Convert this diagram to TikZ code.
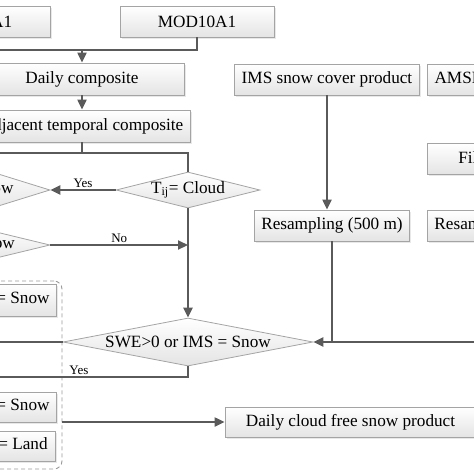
\documentclass[tikz,border=0pt]{standalone}
\usepackage{fontspec}
\setmainfont{Liberation Serif}
\usetikzlibrary{arrows.meta,shapes.geometric,shadows}

\definecolor{flowgray}{HTML}{5A5A5A}
\definecolor{edgegray}{HTML}{A4A4A4}
\definecolor{fillgray}{HTML}{E4E4E4}

\begin{document}
\begin{tikzpicture}[
  x=1pt, y=-1pt,
  font=\fontsize{17.2}{20}\selectfont,
  procbox/.style={
    draw=edgegray, line width=0.9pt,
    top color=white, bottom color=fillgray,
    minimum height=31pt, inner xsep=7pt, inner ysep=0pt,
    drop shadow={opacity=0.18, shadow xshift=1.5pt, shadow yshift=-1.5pt},
  },
  decision/.style={
    diamond, draw=edgegray, line width=0.8pt,
    top color=white, bottom color=fillgray, inner sep=0pt,
  },
  flow/.style={draw=flowgray, line width=2.2pt},
  flowarrow/.style={flow, -{Triangle[length=10pt,width=9pt]}},
  flowlabel/.style={font=\fontsize{13}{15}\selectfont, inner sep=1.5pt},
  groupbox/.style={
    draw=gray!80, line width=0.9pt, dash pattern=on 4pt off 3pt,
    rounded corners=8pt,
  },
]
  \useasboundingbox (0,0) rectangle (474,474);
  \clip (0,0) rectangle (474,474);

  \node[procbox, minimum width=154pt] (mydten) at (-27,21.5) {MYD10A1};
  \node[procbox, minimum width=154pt] (modten) at (197,21.5) {MOD10A1};
  \node[procbox, minimum width=204pt, minimum height=32pt] (daily) at (82,79) {Daily composite};
  \node[procbox, minimum width=216pt, minimum height=32pt] (adjacent) at (82,126)
    {Adjacent temporal composite};

  \node[decision, aspect=4, minimum width=144pt, minimum height=36pt] (cloud) at (188,190)
    {T\textsubscript{ij}= Cloud};
  \node[decision, aspect=3, minimum width=154pt, minimum height=48pt] (prevsnow) at (-27,190)
    {T\textsubscript{ij-1}= Snow};
  \node[decision, aspect=4, minimum width=154pt, minimum height=36pt] (nextsnow) at (-27,245)
    {T\textsubscript{ij+1}= Snow};
  \node[decision, aspect=5.2, minimum width=250pt, minimum height=48pt] (swe) at (188,342)
    {SWE>0 or IMS = Snow};

  \node[groupbox, minimum width=102pt, minimum height=188pt] (group) at (11,375) {};
  \node[procbox, minimum width=86pt, minimum height=32pt] (snowone) at (12,300)
    {T\textsubscript{ij} = Snow};
  \node[procbox, minimum width=86pt, minimum height=30pt] (snowtwo) at (12,407)
    {T\textsubscript{ij} = Snow};
  \node[procbox, minimum width=86pt, minimum height=30pt] (land) at (12,446)
    {T\textsubscript{ij} = Land};

  \node[procbox, minimum width=180pt] (ims) at (327,79.5) {IMS snow cover product};
  \node[procbox, minimum width=152pt] (resims) at (332,225.5) {Resampling (500 m)};
  \node[procbox, anchor=west, minimum width=169pt] (amsr) at (427,79.5) {AMSR2 SWE product};
  \node[procbox, anchor=west, minimum width=121pt] (filter) at (427,159) {Filtering};
  \node[procbox, anchor=west, minimum width=152pt] (resamsr) at (427,225.5) {Resampling (500 m)};

  \node[procbox, minimum width=251pt, minimum height=30pt] (final) at (350.5,422)
    {Daily cloud free snow product};

  \coordinate (merge) at (82,50);
  \coordinate (splitleft) at (-60,153);
  \coordinate (sweleft) at (-60,342);
  \coordinate (yesleft) at (-60,377);
  \coordinate (sweright) at (520,342);

  \draw[flow] (mydten.south) |- (merge) -| (modten.south);
  \draw[flowarrow] (merge) -- (daily.north);
  \draw[flowarrow] (daily.south) -- (adjacent.north);
  \draw[flow] (adjacent.south) -- (adjacent.south |- splitleft);
  \draw[flow] (splitleft) -| (cloud.north);

  \draw[flowarrow] (cloud.west) -- node[above, flowlabel] {Yes} (prevsnow.east);
  \draw[flowarrow] (nextsnow.east) -- node[above, flowlabel] {No} (nextsnow.east -| cloud.south);
  \draw[flowarrow] (cloud.south) -- (swe.north);

  \draw[flow] (swe.west) -- (sweleft);
  \draw[flow] (swe.south) |- node[pos=0.72, above, flowlabel] {Yes} (yesleft);

  \draw[flowarrow] (ims.south) -- (ims.south |- resims.north);
  \draw[flow] (resims.south) -- (resims.south |- swe.east);
  \draw[flowarrow] (sweright) -- (swe.east);

  \draw[flowarrow] (group.east |- final.west) -- (final.west);
\end{tikzpicture}
\end{document}
